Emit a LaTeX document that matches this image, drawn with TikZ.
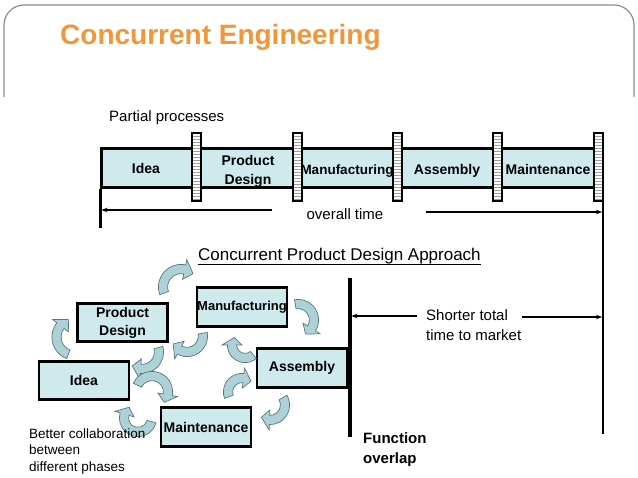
\documentclass[tikz,border=0pt]{standalone}
\usepackage{fontspec}
\setmainfont{Liberation Sans}
\usetikzlibrary{arrows.meta,calc}
\definecolor{boxfill}{RGB}{206,234,237}
\definecolor{arrfill}{RGB}{172,210,216}
\definecolor{arrline}{RGB}{90,116,122}
\definecolor{titleor}{RGB}{242,150,58}
\definecolor{framegray}{RGB}{140,140,140}
\newcommand{\carr}[6]{%
 \pgfmathsetmacro\myRo{#3+4.6}%
 \pgfmathsetmacro\myRi{#3-4.6}%
 \pgfmathsetmacro\myHo{#3+10}%
 \pgfmathsetmacro\myHi{#3-10}%
 \filldraw[curvarr] ($(#1,#2)+(#4:\myRo)$) arc[start angle=#4,end angle=#5,radius=\myRo]
   -- ($(#1,#2)+(#5:\myHo)$) -- ($(#1,#2)+(#6:#3)$) -- ($(#1,#2)+(#5:\myHi)$)
   -- ($(#1,#2)+(#5:\myRi)$) arc[start angle=#5,end angle=#4,radius=\myRi] -- cycle;}
\newcommand{\sepbar}[2]{%
 \node[sepnode] (#1) at (#2,167) {};
 \fill[white] ($(#1.north west)+(2.5,2.5)$) rectangle ($(#1.south east)+(-2.5,-2.5)$);
 \foreach \yy in {136,139,...,199} {\draw[gray!75,line width=0.8] (#2-3.2,\yy) -- (#2+3.2,\yy);}
}
\begin{document}
\begin{tikzpicture}[x=1pt,y=-1pt,
  curvarr/.style={fill=arrfill,draw=arrline,line width=0.7},
  sepnode/.style={fill=black,minimum width=11,minimum height=70,inner sep=0},
  barlbl/.style={font=\bfseries\fontsize{14}{19}\selectfont,anchor=base,inner sep=0},
  pbox/.style={draw,line width=2.6,fill=boxfill,minimum width=90,minimum height=38.5,inner sep=0,font=\bfseries\fontsize{14}{18}\selectfont,align=center},
  plain/.style={font=\fontsize{15}{20}\selectfont,inner sep=0},
  tarrow/.style={line width=1.5,-{Stealth[length=6pt,width=4.5pt]}},
  vline/.style={line width=2.2}]
\useasboundingbox (0,0) rectangle (638,478);
\clip (0,0) rectangle (638,478);
\fill[white] (0,0) rectangle (638,478);
% slide frame
\draw[framegray,line width=1.2] (4,97) -- (4,25) arc[start angle=180,end angle=270,radius=20] -- (614,5) arc[start angle=270,end angle=360,radius=20] -- (634,97);
\node[anchor=base west,inner sep=0,text=titleor,font=\bfseries\fontsize{28}{30}\selectfont] (title) at (60,45) {Concurrent Engineering};
% top part
\node[plain,anchor=base west] (partial) at (109,122) {Partial processes};
\draw[line width=3,fill=boxfill] (101.5,148.5) rectangle (598,187.5);
\node[barlbl] (tidea) at (146,174) {Idea};
\node[barlbl,anchor=center,align=center] (tpd) at (248,171) {Product\\Design};
\node[barlbl,font=\bfseries\fontsize{13.5}{19}\selectfont] (tman) at (347,175) {Manufacturing};
\node[barlbl] (tass) at (447,175) {Assembly};
\node[barlbl] (tmai) at (548,175) {Maintenance};
\sepbar{s1}{196.5}
\sepbar{s2}{297.5}
\sepbar{s3}{397.5}
\sepbar{s4}{497.5}
\sepbar{s5}{598.5}
\coordinate (lt) at (100.5,189);
\coordinate (lb) at (100.5,228);
\coordinate (rt) at (603,202);
\coordinate (rb) at (603,434);
\draw[vline] (lt) -- (lb);
\draw[line width=2.5] (rt) -- (rb);
\node[plain] (overall) at (345,214) {overall time};
\coordinate (oal) at (101.5,210);
\coordinate (oas) at (272,210);
\coordinate (oae) at (426,212);
\coordinate (oar) at (602,212);
\draw[tarrow] (oas) -- (oal);
\draw[tarrow] (oae) -- (oar);
% heading
\node[inner sep=0,font=\fontsize{17}{20}\selectfont,anchor=base west] (cpda) at (198,261) {Concurrent Product Design Approach};
\draw[line width=1.6] ($(cpda.base west)+(0,3.5)$) -- ($(cpda.base east)+(0,3.5)$);
% overlap line
\coordinate (mt) at (350,278);
\coordinate (mb) at (350,437);
\draw[line width=3.5] (mt) -- (mb);
\node[plain,anchor=north west,align=left] (shorter) at (426,309) {Shorter total\\time to market};
\coordinate (sl) at (351.5,316);
\coordinate (ss) at (417,316);
\coordinate (se) at (522,317);
\coordinate (sr) at (602,317);
\draw[tarrow,line width=1.8] (ss) -- (sl);
\draw[tarrow,line width=1.8] (se) -- (sr);
\node[plain,font=\bfseries\fontsize{15}{20}\selectfont,anchor=north west,align=left] (fover) at (363,432) {Function\\overlap};
% boxes
\node[pbox] (bpd) at (122.5,322.5) {Product\\Design};
\node[pbox] (bidea) at (84,380.5) {Idea};
\node[pbox,font=\bfseries\fontsize{13}{18}\selectfont] (bman) at (242,307) {Manufacturing};
\node[pbox] (bass) at (302,368) {Assembly};
\node[pbox] (bmai) at (206,427) {Maintenance};
% curved arrows: cx cy r a1 am a2
\carr{181}{287}{18}{160}{282}{312}
\carr{298}{320}{16}{-100}{32}{62}
\carr{75}{337}{18.5}{111}{218}{250}
\carr{142}{352}{17}{-15}{95}{125}
\carr{187}{336}{16}{-10}{118}{150}
\carr{152}{392}{16}{205}{370}{400}
\carr{138}{418}{14}{15}{196}{230}
\carr{245}{345}{13}{50}{180}{215}
\carr{242}{392}{14}{160}{276}{310}
\carr{270}{405}{15}{-30}{92}{125}
\node[plain,font=\fontsize{13.5}{16.5}\selectfont,anchor=north west,align=left] (better) at (29,428.5) {Better collaboration\\between\\different phases};
\end{tikzpicture}
\end{document}
